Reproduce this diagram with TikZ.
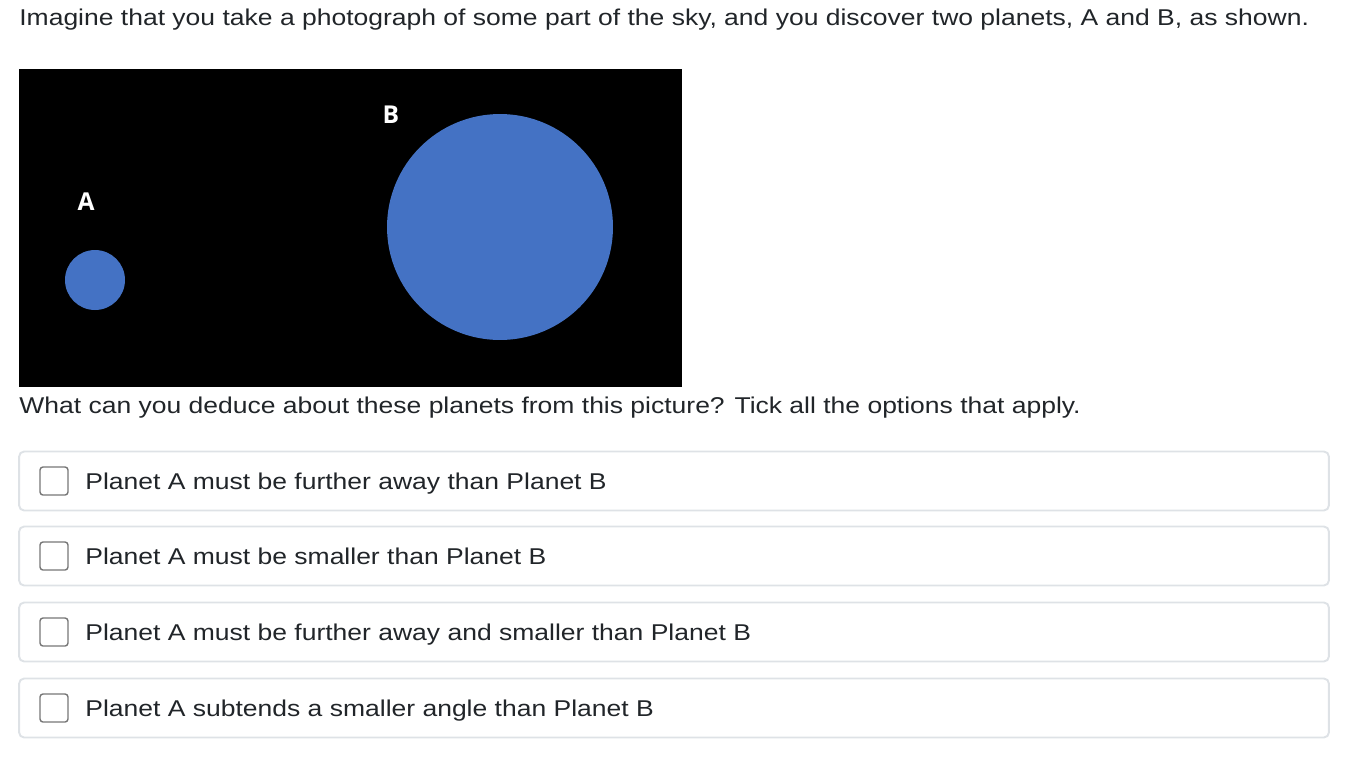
\documentclass[tikz,border=0pt]{standalone}
\usepackage{fontspec}
\setmainfont{Liberation Sans}[FakeStretch=1.16]
\newfontfamily\labelfont{Open Sans}
\usetikzlibrary{positioning}

\definecolor{textdark}{HTML}{212529}
\definecolor{planetblue}{HTML}{4472C4}
\definecolor{boxgray}{HTML}{DEE2E6}
\definecolor{tickgray}{HTML}{767676}

\tikzset{
  bodytext/.style={anchor=base west, inner sep=0pt, text=textdark, font=\fontsize{13}{15}\selectfont},
  optbox/.style={draw=boxgray, line width=1.1pt, rounded corners=0.1cm, minimum width=26.2cm, minimum height=1.18cm, inner sep=0pt},
  tickbox/.style={draw=tickgray, line width=0.8pt, rounded corners=0.06cm, minimum size=0.56cm, inner sep=0pt},
  planet/.style={circle, fill=planetblue, inner sep=0pt},
  planetlabel/.style={text=white, inner sep=0pt, font=\labelfont\fontsize{14}{16}\selectfont\bfseries}
}

\begin{document}
\begin{tikzpicture}[x=0.02cm, y=-0.02cm]
  \useasboundingbox (0,0) rectangle (1364,765);

  % question
  \node[bodytext] (intro) at (19,25) {Imagine that you take a photograph of some part of the sky, and you discover two planets, A and B, as shown.};

  % the photograph
  \fill[black] (19,69) rectangle (682,387);
  \node[planet, minimum size=1.2cm] (planetA) at (95,280) {};
  \node[planet, minimum size=4.52cm] (planetB) at (500,227) {};
  \node[planetlabel] (labelA) at (86,202) {A};
  \node[planetlabel] (labelB) at (391,115) {B};

  \node[bodytext] (ask) at (19,413) {What can you deduce about these planets from this picture? Tick all the options that apply.};

  % options
  \foreach \y/\txt [count=\i] in {481/{Planet A must be further away than Planet B},
      556/{Planet A must be smaller than Planet B},
      632/{Planet A must be further away and smaller than Planet B},
      708/{Planet A subtends a smaller angle than Planet B}} {
    \node[optbox] (opt\i) at (674,\y) {};
    \node[tickbox] (tick\i) at (54,\y) {};
    \node[bodytext] (txt\i) at (85,\y+8.5) {\txt};
  }
\end{tikzpicture}
\end{document}
